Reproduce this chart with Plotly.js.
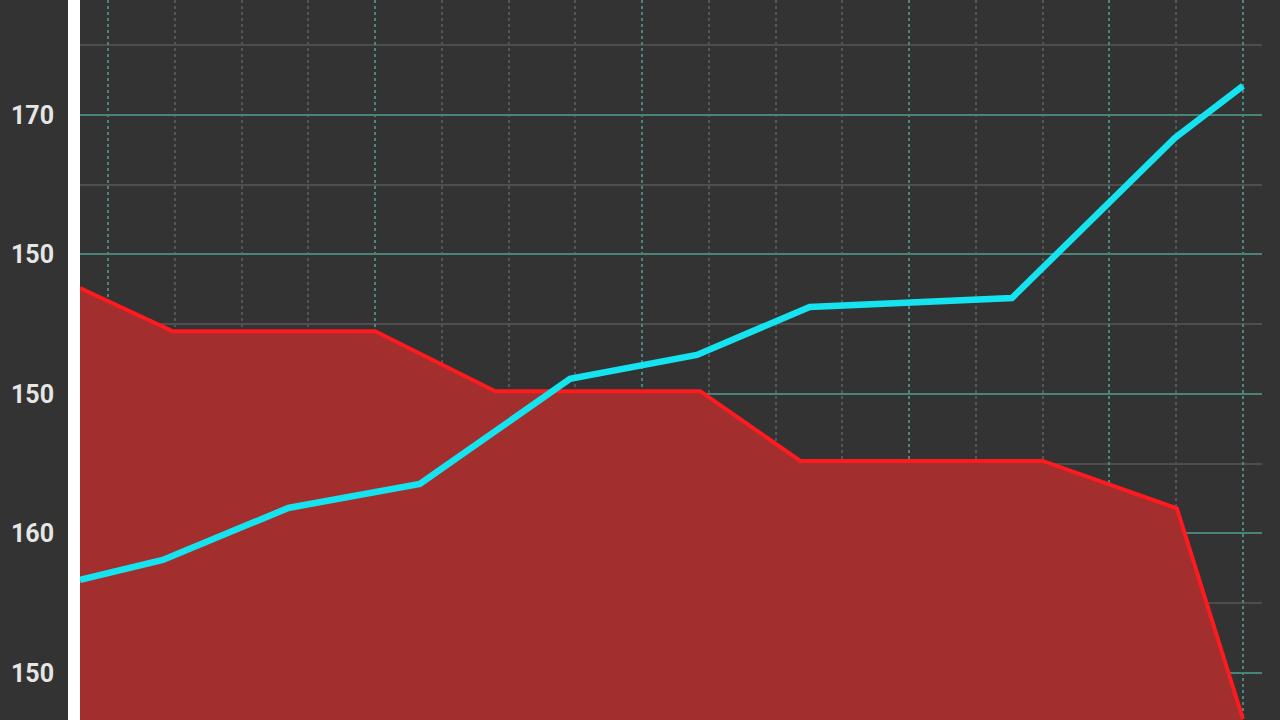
<!DOCTYPE html>
<html>
<head>
<meta charset="utf-8">
<script src="https://cdn.plot.ly/plotly-3.0.1.min.js"></script>
<style>
html,body{margin:0;padding:0;background:#333333;}
#chart{width:1280px;height:720px;}
</style>
</head>
<body>
<div id="chart"></div>
<script>
// Data
const redX = [-0.42, 0.97, 4.0, 5.80, 8.87, 10.37, 14.0, 16.01, 17.0];
const redY = [157.6, 154.5, 154.5, 150.2, 150.2, 145.2, 145.2, 141.8, 126.7];
const cyanX = [-0.42, 0.82, 2.70, 4.67, 6.92, 8.82, 10.51, 13.54, 15.98, 17.0];
const cyanY = [136.67, 138.10, 141.83, 143.55, 151.08, 152.80, 156.24, 156.88, 168.35, 172.08];
const yTickVals = [130, 140, 150, 160, 170];
const yTickText = ["150", "160", "150", "150", "170"];
const xMajorGrid = [0, 4, 8, 12, 15, 17];

const traces = [
  {
    x: redX, y: redY, type: 'scatter', mode: 'lines',
    fill: 'tozeroy', fillcolor: '#a32e2e',
    line: {color: '#ff1a1f', width: 4},
    hoverinfo: 'skip', showlegend: false
  },
  {
    x: cyanX, y: cyanY, type: 'scatter', mode: 'lines',
    line: {color: '#15e3ef', width: 6.5},
    hoverinfo: 'skip', showlegend: false
  }
];

const layout = {
  width: 1280, height: 720,
  paper_bgcolor: '#333333', plot_bgcolor: '#333333',
  margin: {l: 80, r: 18, t: 0, b: 0, pad: 0},
  showlegend: false,
  xaxis: {
    range: [-0.42, 17.285],
    tickmode: 'array', tickvals: xMajorGrid,
    showticklabels: false, ticks: '',
    showgrid: true, gridcolor: '#4a8580', gridwidth: 2, griddash: 'dot',
    minor: {dtick: 1, tick0: 0, showgrid: true, gridcolor: '#555555', gridwidth: 2, griddash: 'dot'},
    zeroline: false, showline: false
  },
  yaxis: {
    range: [126.63, 178.24],
    tickmode: 'array', tickvals: yTickVals, ticktext: yTickText,
    ticks: 'outside', ticklen: 9, tickcolor: 'rgba(0,0,0,0)',
    tickfont: {family: 'Roboto', size: 25, color: '#e6e6e6', weight: 'bold'},
    showgrid: true, gridcolor: '#4a8479', gridwidth: 2,
    minor: {dtick: 5, tick0: 125, showgrid: true, gridcolor: '#4e4e4e', gridwidth: 2},
    zeroline: false,
    showline: true, linecolor: '#ffffff', linewidth: 12
  }
};

Plotly.newPlot('chart', traces, layout, {staticPlot: true, displayModeBar: false});
</script>
</body>
</html>
